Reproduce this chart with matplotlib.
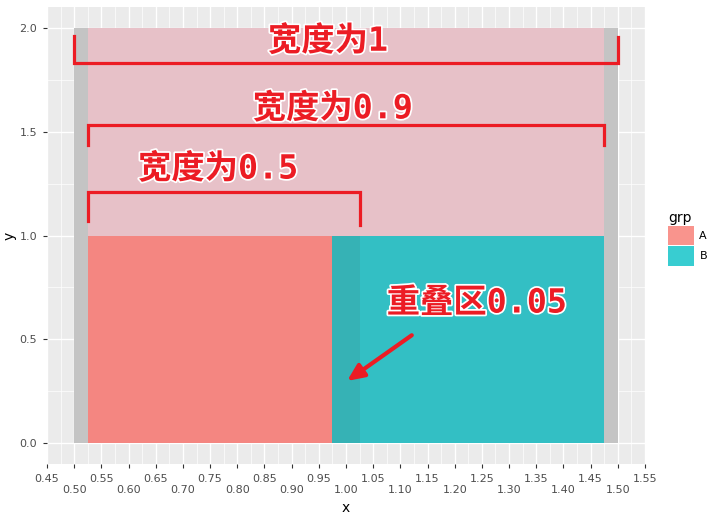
import numpy as np
import matplotlib
matplotlib.use("Agg")
from matplotlib import pyplot as plt
from matplotlib.patches import Patch
import matplotlib.patheffects as pe

# data
bg_width = [1.0]          # grey bar
bg_height = [2.0]
mid_width = [0.95]        # pink bar (as drawn in the picture)
mid_height = [2.0]
grp = ["A", "B"]
grp_x = [0.775, 1.225]    # centres of the two 0.5-wide bars
grp_width = [0.5, 0.5]
grp_height = [1.0, 1.0]
grp_colors = ["#F8766D", "#00BFC4"]

x_breaks = np.round(np.arange(0.45, 1.5501, 0.05), 2)
y_breaks = [0.0, 0.5, 1.0, 1.5, 2.0]

RED = "#EC1C24"

fig = plt.figure(figsize=(7.2, 5.22), dpi=100)
ax = fig.add_axes([0.0653, 0.111, 0.8305, 0.8756])
ax.set_facecolor("#EBEBEB")

ax.bar([1.0], bg_height, width=bg_width, color="#C4C4C4", zorder=2)
ax.bar([1.0], mid_height, width=mid_width, color="pink", alpha=0.6, zorder=3)
for xc, w, h, c in zip(grp_x, grp_width, grp_height, grp_colors):
    ax.bar([xc], [h], width=w, color=c, alpha=0.78, zorder=4)

ax.set_xlim(0.45, 1.55)
ax.set_ylim(-0.1, 2.1)
ax.set_xticks(x_breaks)
ax.set_xticklabels([f"{v:.2f}" if i % 2 == 0 else "\n" + f"{v:.2f}"
                    for i, v in enumerate(x_breaks)])
ax.set_xticks(np.arange(0.475, 1.55, 0.05), minor=True)
ax.set_yticks(y_breaks)
ax.set_yticklabels([f"{v:.1f}" for v in y_breaks])
ax.set_yticks([0.25 + 0.5 * i for i in range(4)], minor=True)
ax.grid(which="major", color="white", linewidth=1.0, zorder=0)
ax.grid(which="minor", color="white", linewidth=0.5, zorder=0)
ax.set_axisbelow(True)
for s in ax.spines.values():
    s.set_visible(False)
ax.tick_params(which="major", length=3, color="#333333", labelcolor="#4D4D4D",
               labelsize=8, pad=4)
ax.tick_params(which="minor", length=0)
ax.set_xlabel("x", fontsize=10, labelpad=4)
ax.set_ylabel("y", fontsize=10, labelpad=2)

# annotations: brackets over the bar widths
def bracket(x0, x1, ybar, yl, yr):
    ax.plot([x0, x0, x1, x1], [yl, ybar, ybar, yr], color=RED, lw=2.3,
            solid_joinstyle="miter", zorder=6)

bracket(1.0 - bg_width[0] / 2, 1.0 + bg_width[0] / 2, 1.83, 1.96, 1.955)
bracket(1.0 - mid_width[0] / 2, 1.0 + mid_width[0] / 2, 1.533, 1.436, 1.436)
bracket(grp_x[0] - grp_width[0] / 2, grp_x[0] + grp_width[0] / 2, 1.21, 1.07, 1.05)

fx = dict(fontsize=24, fontweight="bold", color=RED, ha="center", va="center",
          family=["DejaVu Sans Mono", "Noto Sans CJK SC"], zorder=7,
          path_effects=[pe.Stroke(linewidth=2.5, foreground="white"), pe.Normal()])
ax.text(0.967, 1.935, "宽度为1", **fx)
ax.text(0.976, 1.61, "宽度为0.9", **fx)
ax.text(0.765, 1.32, "宽度为0.5", **fx)
ax.text(1.241, 0.675, "重叠区0.05", **fx)

ax.annotate("", xy=(1.002, 0.30), xytext=(1.121, 0.52),
            arrowprops=dict(arrowstyle="-|>,head_length=1.0,head_width=0.45",
                            color=RED, lw=3, shrinkA=0, shrinkB=0), zorder=7)

handles = [Patch(facecolor=c, alpha=0.78, edgecolor="none") for c in grp_colors]
leg = fig.legend(handles, grp, title="grp", loc="upper left",
                 bbox_to_anchor=(0.922, 0.605), frameon=False, fontsize=8,
                 title_fontsize=10, handlelength=2.3, handleheight=2.3,
                 handletextpad=0.5, labelspacing=0.1, borderaxespad=0)
leg._legend_box.align = "left"

fig.savefig("out.png", dpi=100)
